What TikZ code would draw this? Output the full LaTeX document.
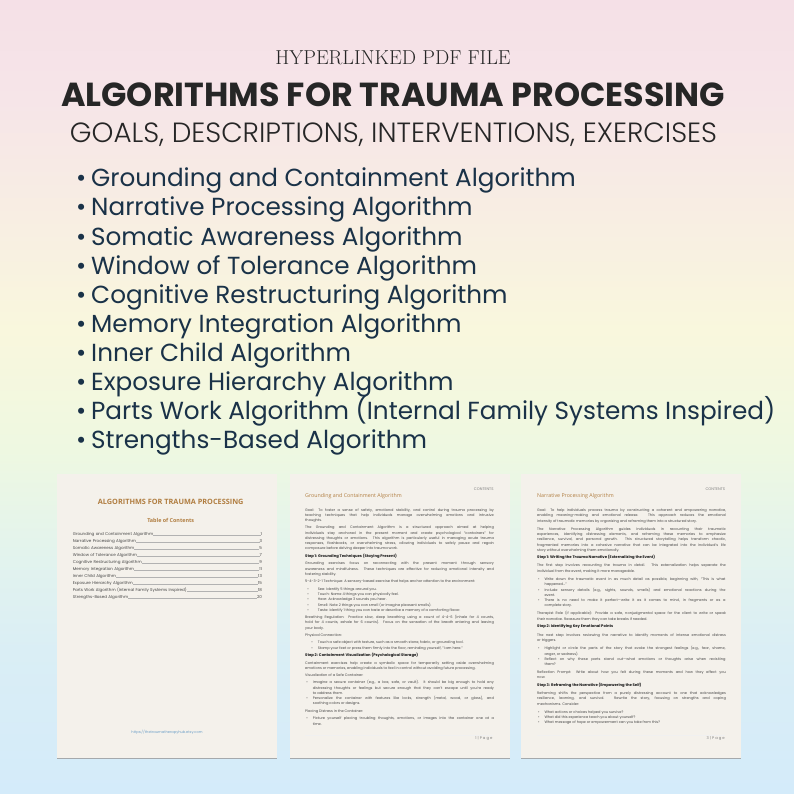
\documentclass[tikz,border=0pt]{standalone}
\usepackage{fontspec}
\usetikzlibrary{shadows}
\setmainfont{Poppins}
\newfontfamily\lightfamily{Poppins Light}
\newfontfamily\headfamily{Open Sans}
\newfontfamily\thinfamily{Latin Modern Roman}

\definecolor{bandpink}{RGB}{245,224,231}
\definecolor{bandrose}{RGB}{246,229,232}
\definecolor{bandcream}{RGB}{248,239,226}
\definecolor{bandyellow}{RGB}{249,247,221}
\definecolor{bandgreen}{RGB}{238,248,225}
\definecolor{bandmint}{RGB}{226,243,238}
\definecolor{bandsky}{RGB}{218,238,245}
\definecolor{bandblue}{RGB}{212,235,250}
\definecolor{sheetfill}{RGB}{244,241,235}
\definecolor{inkbrown}{RGB}{176,125,64}
\definecolor{inknavy}{RGB}{26,50,72}
\definecolor{inkgrey}{RGB}{70,70,70}
\definecolor{inklink}{RGB}{110,160,200}

\pgfdeclareverticalshading{wallbands}{100bp}{%
  color(0bp)=(bandblue); color(25bp)=(bandblue); color(34.07bp)=(bandsky); color(39.7bp)=(bandmint);
  color(46.7bp)=(bandgreen); color(54.2bp)=(bandyellow); color(60.5bp)=(bandcream);
  color(68.7bp)=(bandrose); color(75bp)=(bandpink); color(100bp)=(bandpink)}

\newcommand{\sheetbul}[1]{\leavevmode\llap{\textbullet\hspace{#1pt}}}

\tikzset{sheet/.style = {fill = sheetfill, inner sep = 0pt, minimum width = 220pt,
                         minimum height = 284pt,
                         drop shadow = {shadow xshift = 0pt, shadow yshift = -1.4pt,
                                        fill = black!40, opacity = .8}},
         bigline/.style = {anchor = base west, inner sep = 0pt, text = inknavy,
                           font = \fontsize{24.7}{29}\selectfont},
         sheethead/.style = {anchor = west, inner sep = 0pt, text = inkbrown,
                             font = \headfamily\fontsize{5.3}{6}\selectfont},
         sheetmark/.style = {anchor = east, inner sep = 0pt, text = black!50,
                             font = \fontsize{3.8}{4}\selectfont},
         blocktext/.style = {anchor = north west, inner sep = 0pt, text width = #1,
                             align = justify, text = inkgrey,
                             font = \fontsize{3.55}{5.3}\selectfont,
                             execute at begin node = \strut},
         blocktext/.default = 188.7pt,
         stepline/.style = {anchor = west, inner sep = 0pt, text = black!90,
                            font = \bfseries\fontsize{3.75}{5.3}\selectfont},
         tocrow/.style = {anchor = west, inner sep = 0pt, text width = 189pt, text = inkgrey,
                          font = \fontsize{4.05}{5}\selectfont}
        }

\begin{document}
\begin{tikzpicture}[x=1pt,y=-1pt]
  \useasboundingbox (0,0) rectangle (794,794);
  \shade[shading=wallbands] (0,0) rectangle (794,794);

  \node[anchor=base,inner sep=0pt,text=black!85,font=\thinfamily\fontsize{20.2}{24}\selectfont] (hyper) at (393,65) {HYPERLINKED PDF FILE};
  \node[anchor=base,inner sep=0pt,text=black!85,font=\bfseries\fontsize{33.3}{36}\selectfont] (title) at (393,106.7) {ALGORITHMS FOR TRAUMA PROCESSING};
  \node[anchor=base,inner sep=0pt,text=black!85,font=\lightfamily\fontsize{27.8}{30}\selectfont] (goals) at (393.5,142.7) {GOALS, DESCRIPTIONS, INTERVENTIONS, EXERCISES};

  \foreach \algname [count=\i] in {Grounding and Containment Algorithm,
                                   Narrative Processing Algorithm,
                                   Somatic Awareness Algorithm,
                                   Window of Tolerance Algorithm,
                                   Cognitive Restructuring Algorithm,
                                   Memory Integration Algorithm,
                                   Inner Child Algorithm,
                                   Exposure Hierarchy Algorithm,
                                   Parts Work Algorithm (Internal Family Systems Inspired),
                                   Strengths-Based Algorithm}
    \node[bigline] (alg\i) at (91,{158+29*\i}) {\llap{\textbullet\hspace{5pt}}\algname};

  % first sheet
  \node[sheet] (sheetA) at (167,616) {};
  \node[inner sep=0pt,text=inkbrown,font=\headfamily\bfseries\fontsize{7.3}{8}\selectfont] (tocTitle) at (170.7,501.7) {ALGORITHMS FOR TRAUMA PROCESSING};
  \node[inner sep=0pt,text=inkbrown,font=\headfamily\bfseries\fontsize{5.4}{7}\selectfont] (tocHead) at (170.7,520) {Table of Contents};
  \foreach \algname/\pageno [count=\i] in {Grounding and Containment Algorithm/1,
                                           Narrative Processing Algorithm/3,
                                           Somatic Awareness Algorithm/5,
                                           Window of Tolerance Algorithm/7,
                                           Cognitive Restructuring Algorithm/9,
                                           Memory Integration Algorithm/11,
                                           Inner Child Algorithm/13,
                                           Exposure Hierarchy Algorithm/15,
                                           Parts Work Algorithm (Internal Family Systems Inspired)/18,
                                           Strengths-Based Algorithm/20}
    \node[tocrow] (toc\i) at (72.7,{527.3+7*\i}) {\algname\textcolor{black!30}{\leaders\hrule height .25pt\hfill}\pageno};
  \node[inner sep=0pt,text=inklink,font=\fontsize{3.6}{5}\selectfont] (tocLink) at (167,732) {https://thetraumatherapyhub.etsy.com};

  % second sheet
  \node[sheet] (sheetB) at (399.5,616) {};
  \node[sheetmark] (markB) at (493.7,489) {CONTENTS};
  \node[sheethead] (headB) at (305,495.7) {Grounding and Containment Algorithm};
  \node[blocktext] (b1) at (305,507.2) {Goal: To foster a sense of safety, emotional stability, and control during trauma processing by\linebreak
    teaching techniques that help individuals manage overwhelming emotions and intrusive\linebreak thoughts.};
  \node[blocktext] (b2) at (305,524.8) {The Grounding and Containment Algorithm is a structured approach aimed at helping\linebreak
    individuals stay anchored in the present moment and create psychological "containers" for\linebreak
    distressing thoughts or emotions. This algorithm is particularly useful in managing acute trauma\linebreak
    responses, flashbacks, or overwhelming stress, allowing individuals to safely pause and regain\linebreak
    composure before delving deeper into trauma work.};
  \node[stepline] (b3) at (305,556) {Step 1: Grounding Techniques (Staying Present)};
  \node[blocktext] (b4) at (305,560.8) {Grounding exercises focus on reconnecting with the present moment through sensory\linebreak
    awareness and mindfulness. These techniques are effective for reducing emotional intensity and\linebreak fostering stability.};
  \node[blocktext] (b5) at (305,578.5) {5-4-3-2-1 Technique: A sensory-based exercise that helps anchor attention to the environment:};
  \node[blocktext=176pt] (b6) at (317.7,586.2) {\sheetbul{9}See: Identify 5 things around you.\par
    \sheetbul{9}Touch: Name 4 things you can physically feel.\par
    \sheetbul{9}Hear: Acknowledge 3 sounds you hear.\par
    \sheetbul{9}Smell: Note 2 things you can smell (or imagine pleasant smells).\par
    \sheetbul{9}Taste: Identify 1 thing you can taste or describe a memory of a comforting flavor.};
  \node[blocktext] (b7) at (305,614.5) {Breathing Regulation: Practice slow, deep breathing using a count of 4-4-6 (inhale for 4 counts,\linebreak
    hold for 4 counts, exhale for 6 counts). Focus on the sensation of the breath entering and leaving\linebreak your body.};
  \node[blocktext] (b8) at (305,632.5) {Physical Connection:};
  \node[blocktext=176pt] (b9) at (317.7,639.8) {\sheetbul{5}Touch a safe object with texture, such as a smooth stone, fabric, or grounding tool.\par
    \sheetbul{5}Stamp your feet or press them firmly into the floor, reminding yourself, "I am here."};
  \node[stepline] (b10) at (305,655) {Step 2: Containment Visualization (Psychological Storage)};
  \node[blocktext] (b11) at (305,660.2) {Containment exercises help create a symbolic space for temporarily setting aside overwhelming\linebreak
    emotions or memories, enabling individuals to feel in control without avoiding future processing.};
  \node[blocktext] (b12) at (305,672.5) {Visualization of a Safe Container:};
  \node[blocktext=181pt] (b13) at (312.7,679.8) {\sheetbul{5}Imagine a secure container (e.g., a box, safe, or vault). It should be big enough to hold any\linebreak
    distressing thoughts or feelings but secure enough that they can't escape until you're ready\linebreak to address them.\par
    \sheetbul{5}Personalize the container with features like locks, strength (metal, wood, or glass), and\linebreak soothing colors or designs.};
  \node[blocktext] (b14) at (305,708.2) {Placing Distress in the Container:};
  \node[blocktext=181pt] (b15) at (312.7,715.8) {\sheetbul{5}Picture yourself placing troubling thoughts, emotions, or images into the container one at a\linebreak time.};
  \node[sheetmark] (footB) at (492.7,738) {1 | P a g e};

  % third sheet
  \node[sheet] (sheetC) at (631,616) {};
  \node[sheetmark] (markC) at (725.3,489) {CONTENTS};
  \node[sheethead] (headC) at (537,495.7) {Narrative Processing Algorithm};
  \node[blocktext] (c1) at (537,507.5) {Goal: To help individuals process trauma by constructing a coherent and empowering narrative,\linebreak
    enabling meaning-making and emotional release. This approach reduces the emotional\linebreak
    intensity of traumatic memories by organizing and reframing them into a structured story.};
  \node[blocktext] (c2) at (537,526.2) {The Narrative Processing Algorithm guides individuals in recounting their traumatic\linebreak
    experiences, identifying distressing elements, and reframing these memories to emphasize\linebreak
    resilience, survival, and personal growth. This structured storytelling helps transform chaotic,\linebreak
    fragmented memories into a cohesive narrative that can be integrated into the individual's life\linebreak
    story without overwhelming them emotionally.};
  \node[stepline] (c3) at (537,557.7) {Step 1: Writing the Trauma Narrative (Externalizing the Event)};
  \node[blocktext] (c4) at (537,562.8) {The first step involves recounting the trauma in detail. This externalization helps separate the\linebreak
    individual from the event, making it more manageable.};
  \node[blocktext=181pt] (c5) at (544.3,576.5) {\sheetbul{5}Write down the traumatic event in as much detail as possible, beginning with, "This is what\linebreak happened..."\par
    \sheetbul{5}Include sensory details (e.g., sights, sounds, smells) and emotional reactions during the\linebreak event.\par
    \sheetbul{5}There is no need to make it perfect---write it as it comes to mind, in fragments or as a\linebreak complete story.};
  \node[blocktext] (c6) at (537,610.8) {Therapist Role (if applicable): Provide a safe, nonjudgmental space for the client to write or speak\linebreak
    their narrative. Reassure them they can take breaks if needed.};
  \node[stepline] (c7) at (537,626.7) {Step 2: Identifying Key Emotional Points};
  \node[blocktext] (c8) at (537,632.2) {The next step involves reviewing the narrative to identify moments of intense emotional distress\linebreak or triggers.};
  \node[blocktext=181pt] (c9) at (544.3,645.8) {\sheetbul{5}Highlight or circle the parts of the story that evoke the strongest feelings (e.g., fear, shame,\linebreak anger, or sadness).\par
    \sheetbul{5}Reflect on why these parts stand out---what emotions or thoughts arise when revisiting\linebreak them?};
  \node[blocktext] (c10) at (537,669.2) {Reflection Prompt: Write about how you felt during these moments and how they affect you\linebreak now.};
  \node[stepline] (c11) at (537,685) {Step 3: Reframing the Narrative (Empowering the Self)};
  \node[blocktext] (c12) at (537,690.5) {Reframing shifts the perspective from a purely distressing account to one that acknowledges\linebreak
    resilience, learning, and survival. Rewrite the story, focusing on strengths and coping\linebreak mechanisms. Consider:};
  \node[blocktext=181pt] (c13) at (544.3,709.2) {\sheetbul{5}What actions or choices helped you survive?\par
    \sheetbul{5}What did this experience teach you about yourself?\par
    \sheetbul{5}What message of hope or empowerment can you take from this?};
  \node[sheetmark] (footC) at (725,738) {3 | P a g e};

  \draw[black!6,line width=.3pt] (footB.east -| b1.west) ++(0,-2.4) -- ++(188,0);
  \draw[black!6,line width=.3pt] (footC.east -| c1.west) ++(0,-2.4) -- ++(188,0);
\end{tikzpicture}
\end{document}
